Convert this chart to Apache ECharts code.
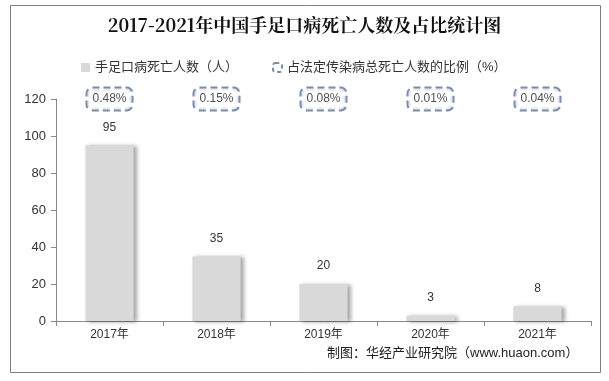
<!DOCTYPE html>
<html><head><meta charset="utf-8">
<script src="https://cdn.jsdelivr.net/npm/echarts@6/dist/echarts.min.js"></script>
<style>html,body{margin:0;padding:0;background:#fff}#c{width:609px;height:381px}</style>
</head><body><div id="c"></div>
<script>
var categories = ['2017年','2018年','2019年','2020年','2021年'];
var deaths = [95, 35, 20, 3, 8];
var ratios = ['0.48%','0.15%','0.08%','0.01%','0.04%'];
var ratioLevel = [120,120,120,120,120];
var yTicks = [0,20,40,60,80,100,120];

var chart = echarts.init(document.getElementById('c'), null, {renderer:'canvas'});
var font = '"Liberation Sans", "Noto Sans CJK SC", sans-serif';
chart.setOption({
  animation:false,
  backgroundColor:'#fff',
  graphic:[
    {type:'rect', shape:{x:10.5,y:5.5,width:590,height:367}, style:{fill:'none', stroke:'#7f7f7f', lineWidth:1}, z:-1},
    {type:'text', left:327, top:347, style:{text:'制图：华经产业研究院（www.huaon.com）', font:'13px '+font, fill:'#222'}}
  ],
  title:{text:'2017-2021年中国手足口病死亡人数及占比统计图', left:'center', top:11,
    textStyle:{fontFamily:'"Noto Serif CJK SC","DejaVu Serif",'+font, fontSize:18, fontWeight:'bold', color:'#111'}},
  legend:{top:56, left:76, itemGap:34, itemWidth:9, itemHeight:9,
    textStyle:{fontFamily:font, fontSize:13, color:'#333'},
    data:[
      {name:'手足口病死亡人数（人）', icon:'rect', itemStyle:{color:'#d9d9d9'}},
      {name:'占法定传染病总死亡人数的比例（%）', icon:'roundRect', itemStyle:{color:'rgba(0,0,0,0)', borderColor:'#5b6f96', borderWidth:2, borderType:[4,3]}}
    ]},
  grid:{left:56, right:18, top:99, bottom:60, containLabel:false},
  xAxis:{type:'category', data:categories,
    axisLine:{lineStyle:{color:'#888'}}, axisTick:{show:true, lineStyle:{color:'#888'}},
    axisLabel:{fontFamily:font, fontSize:12, color:'#333', margin:8}},
  yAxis:{type:'value', min:0, max:120, interval:20,
    axisLine:{show:true, lineStyle:{color:'#888'}}, axisTick:{show:true, lineStyle:{color:'#888'}},
    splitLine:{show:false},
    axisLabel:{fontFamily:font, fontSize:13, color:'#333', margin:10,
      formatter:function(v){return yTicks.indexOf(v)>=0?String(v):'';}}},
  series:[
    {name:'手足口病死亡人数（人）', type:'bar', data:deaths, barWidth:'45%',
      itemStyle:{color:'#d9d9d9', shadowColor:'rgba(0,0,0,0.35)', shadowBlur:4, shadowOffsetX:3, shadowOffsetY:1},
      label:{show:true, position:'top', distance:12, fontFamily:font, fontSize:12, color:'#333'}},
    {name:'占法定传染病总死亡人数的比例（%）', type:'scatter', data:ratioLevel, symbolSize:1,
      itemStyle:{color:'rgba(0,0,0,0)'},
      label:{show:true, position:'inside', fontFamily:font, fontSize:12, color:'#222',
        formatter:function(p){return ratios[p.dataIndex];},
        borderColor:'#5b6f96', borderWidth:2, borderType:[7,4], borderRadius:5,
        padding:[5,5,4,5], backgroundColor:'#fff'}}
  ]
});
</script></body></html>
